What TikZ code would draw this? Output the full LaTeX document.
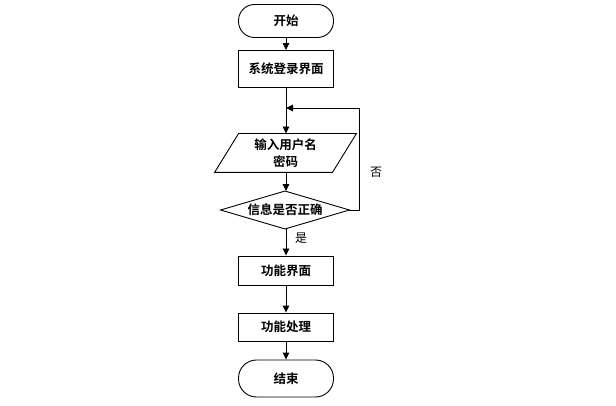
\documentclass[tikz,border=0pt]{standalone}
\usepackage{fontspec}
\newfontfamily\cjk{Noto Sans CJK SC}
\newfontfamily\cjkb{Noto Sans CJK SC Bold}
\usetikzlibrary{arrows.meta}
\begin{document}
\begin{tikzpicture}[x=1pt,y=-1pt,
  line width=0.9pt,
  box/.style={draw, rectangle, minimum width=95pt, inner sep=0pt, font=\cjkb\fontsize{12.5}{15}\selectfont},
  term/.style={draw, rectangle, rounded corners=16pt, minimum width=95pt, inner sep=0pt, font=\cjkb\fontsize{12.5}{15}\selectfont},
  txt/.style={rectangle, inner sep=0pt, font=\cjkb\fontsize{12.5}{15}\selectfont},
  lbl/.style={inner sep=0pt, font=\cjk\fontsize{12}{14}\selectfont},
  arr/.style={-{Triangle[length=7pt,width=6.5pt]}}
]
\useasboundingbox (0,0) rectangle (616,406);
\node[term, minimum height=33pt] (start) at (286,21) {开始};
\node[box, minimum height=37pt] (login) at (286,69) {系统登录界面};
\coordinate (join) at (286,108);
\node[txt, minimum width=141pt, minimum height=38pt, align=center] (input) at (285.5,153) {输入用户名\\[2pt]密码};
\draw (input.south west) -- ([xshift=24pt]input.north west) -- (input.north east) -- ([xshift=-24pt]input.south east) -- cycle;
\node[txt, minimum width=128pt, minimum height=37pt] (dec) at (285,210) {信息是否正确};
\draw (dec.west) -- (dec.north) -- (dec.east) -- (dec.south) -- cycle;
\node[box, minimum height=29pt] (func) at (286,270.5) {功能界面};
\node[box, minimum height=28pt] (proc) at (286,327) {功能处理};
\node[term, minimum height=37pt, rounded corners=18pt] (end) at (286,378.5) {结束};
\coordinate (loopr) at (359,210);
\coordinate (loopt) at (359,108);
\node[lbl] (no) at (376,172) {否};
\node[lbl] (yes) at (301,238) {是};

\draw[arr] (start) -- (login);
\draw[arr] (login) -- (input.north -| login);
\draw (dec.east) -- (loopr) -- (loopt);
\draw[arr] (loopt) -- (join);
\draw[arr] (input.south -| login) -- (dec.north -| login);
\draw[arr] (dec.south -| func) -- (func);
\draw[arr] (func) -- (proc);
\draw[arr] (proc) -- (end);
\end{tikzpicture}
\end{document}
